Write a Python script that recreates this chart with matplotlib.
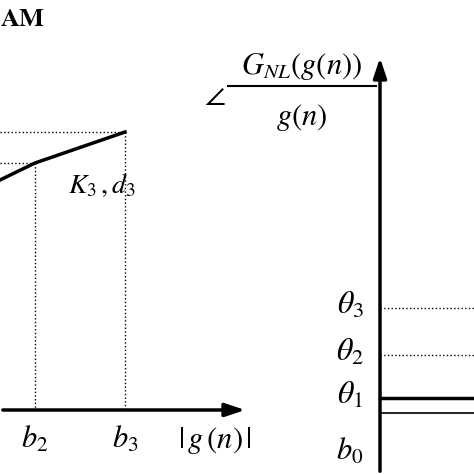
import matplotlib
matplotlib.use("Agg")
import matplotlib.pyplot as plt

plt.rcParams['mathtext.fontset'] = 'stix'
plt.rcParams['font.family'] = 'STIXGeneral'

# piecewise AM curve breakpoints (pixel-like diagram coords)
am_x = [0, 35, 125]
am_y = [180, 163, 132]
theta_levels = [398, 355, 308]
theta_labels = [r'$\theta_1$', r'$\theta_2$', r'$\theta_3$']
b_pos = [35, 125]
b_labels = [r'$b_2$', r'$b_3$']

fig = plt.figure(figsize=(4.74, 4.74), dpi=100)
ax = fig.add_axes([0, 0, 1, 1])
ax.set_xlim(0, 474); ax.set_ylim(474, 0); ax.axis('off')

ax.text(1, 20, 'AM', fontsize=19, va='center', ha='left', fontweight='bold')
ax.plot(am_x, am_y, color='black', lw=2.5)
for x, y in zip(am_x[1:], am_y[1:]):
    ax.plot([0, x], [y, y], ls=':', color='black', lw=1)
    ax.plot([x, x], [y, 410], ls=':', color='black', lw=1)
ax.text(68, 185, r'$K_3\,,d_3$', fontsize=20, va='center')
ax.annotate('', xy=(248, 410), xytext=(0, 410),
            arrowprops=dict(arrowstyle='-|>,head_length=1.2,head_width=0.4', color='black', lw=2.5))
for x, l in zip(b_pos, b_labels):
    ax.text(x, 440, l, fontsize=22, ha='center', va='center')
ax.text(215, 440, r'$|\,g\,(n)\,|$', fontsize=22, ha='center', va='center')

ax.annotate('', xy=(380, 55), xytext=(380, 474),
            arrowprops=dict(arrowstyle='-|>,head_length=1.2,head_width=0.4', color='black', lw=2.5))
ax.text(215, 98, r'$\angle$', fontsize=22, va='center', ha='center')
ax.text(302, 66, r'$G_{NL}\left(g\left(n\right)\right)$', fontsize=22, va='center', ha='center')
ax.plot([228, 376], [86, 86], color='black', lw=1.5)
ax.text(302, 117, r'$g\left(n\right)$', fontsize=22, va='center', ha='center')
ax.plot([380, 474], [theta_levels[0], theta_levels[0]], color='black', lw=2.5)
ax.plot([380, 474], [413, 413], color='black', lw=1.2)
for y in theta_levels[1:]:
    ax.plot([380, 474], [y, y], ls=':', color='black', lw=1)
for y, l in zip(theta_levels, theta_labels):
    ax.text(350, y - 2, l, fontsize=23, ha='center', va='center')
ax.text(350, 452, r'$b_0$', fontsize=22, ha='center', va='center')

fig.savefig('out.png', dpi=100)
